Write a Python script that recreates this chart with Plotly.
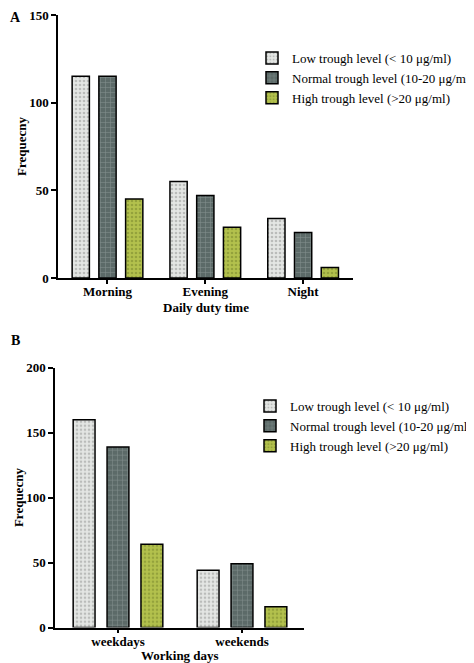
import plotly.graph_objects as go

# panel A - daily duty time
duty_times = ["Morning", "Evening", "Night"]
duty_low = [115, 55, 34]
duty_normal = [115, 47, 26]
duty_high = [45, 29, 6]

# panel B - working days
work_days = ["weekdays", "weekends"]
work_low = [160, 44]
work_normal = [139, 49]
work_high = [64, 16]

level_names = ["Low trough level (< 10 μg/ml)",
               "Normal trough level (10-20 μg/ml)",
               "High trough level (>20 μg/ml)"]
ticks_a = [0, 50, 100, 150]
ticks_b = [0, 50, 100, 150, 200]

W, H = 474, 663
OFF = 8  # page body margin, the figure sits 8px in from the window corner
SERIF = "Times New Roman, Liberation Serif, DejaVu Serif, serif"


def px(x):
    return (x - OFF) / W


def py(y):
    return (H - (y - OFF)) / H


styles = [
    dict(shape=".", bgcolor="#e4e6e4", fgcolor="#8f9290", size=4, solidity=0.35),
    dict(shape="+", bgcolor="#5c6a68", fgcolor="#aab4b2", size=5, solidity=0.2),
    dict(shape=".", bgcolor="#b3c14d", fgcolor="#76832c", size=4, solidity=0.35),
]


def bar(x, y, i, axis, legend):
    return go.Bar(
        x=x, y=y, name=level_names[i],
        xaxis="x" + axis, yaxis="y" + axis, legend=legend,
        marker=dict(color=styles[i]["bgcolor"], pattern=styles[i],
                    line=dict(color="black", width=1.5)),
    )


fig = go.Figure()
for i, vals in enumerate([duty_low, duty_normal, duty_high]):
    fig.add_trace(bar(duty_times, vals, i, "", "legend"))
for i, vals in enumerate([work_low, work_normal, work_high]):
    fig.add_trace(bar(work_days, vals, i, "2", "legend2"))

bold = dict(family=SERIF, size=13, color="black", weight="bold")
xcommon = dict(type="category", showline=True, linecolor="black", linewidth=1.5,
               ticks="outside", ticklen=4, tickwidth=1.5, tickcolor="black",
               ticklabelstandoff=-3, tickfont=bold, showgrid=False,
               zeroline=False, automargin=False)
ycommon = dict(showline=True, linecolor="black", linewidth=1.5,
               ticks="outside", ticklen=5, tickwidth=1.5, tickcolor="black",
               tickfont=bold, ticklabeloverflow="allow", showgrid=False,
               zeroline=False, automargin=False)

legend_style = dict(font=dict(family=SERIF, size=13, color="black"),
                    bgcolor="rgba(0,0,0,0)", xanchor="left", yanchor="top",
                    tracegroupgap=0)


def note(text, x, y, xref="paper", yref="paper", yshift=0, xanchor="center", size=13):
    return dict(text=text, x=x, y=y, xref=xref, yref=yref, xanchor=xanchor,
                yanchor="top", yshift=yshift, showarrow=False,
                font=dict(family=SERIF, size=size, color="black", weight="bold"))


fig.update_layout(
    width=W, height=H,
    margin=dict(l=0, r=0, t=0, b=0, autoexpand=False),
    paper_bgcolor="white", plot_bgcolor="white",
    barmode="group", bargap=0.18, bargroupgap=0.355,
    font=dict(family=SERIF, color="black"),
    xaxis=dict(xcommon, domain=[px(58), px(353)], range=[-0.506, 2.51], anchor="y"),
    yaxis=dict(ycommon, domain=[py(278), py(15)], range=[0, 150],
               tickvals=ticks_a, anchor="x",
               title=dict(text="Frequecny", font=bold, standoff=0)),
    xaxis2=dict(xcommon, domain=[px(55), px(304)], range=[-0.508, 1.5], anchor="y2"),
    yaxis2=dict(ycommon, domain=[py(627.5), py(367.7)], range=[0, 200],
                tickvals=ticks_b, anchor="x2",
                title=dict(text="Frequecny", font=bold, standoff=0)),
    legend=dict(legend_style, x=px(252), y=py(43)),
    legend2=dict(legend_style, x=px(250), y=py(391)),
    annotations=[
        note("Daily duty time", 0.5, 0, "x domain", "y domain", yshift=-20),
        note("Working days", 0.5, 0, "x2 domain", "y2 domain", yshift=-18),
        note("A", px(8), py(8), xanchor="left", size=14),
        note("B", px(9), py(331), xanchor="left", size=14),
    ],
)

fig.write_html("out.html")
